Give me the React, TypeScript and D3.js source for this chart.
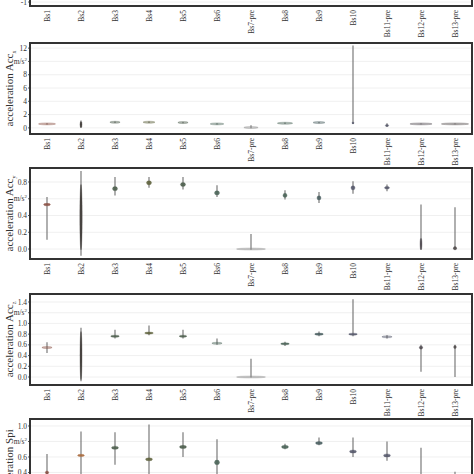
import * as d3 from "d3";

// categories on every panel
const categories = [
  "Bs1", "Bs2", "Bs3", "Bs4", "Bs5", "Bs6", "Bs7-pre",
  "Bs8", "Bs9", "Bs10", "Bs11-pre", "Bs12-pre", "Bs13-pre",
];

// panel 1: acceleration Acc x
const accXMin = [0.5, 0.0, 0.75, 0.75, 0.7, 0.5, -0.05, 0.6, 0.7, 0.6, 0.15, 0.55, 0.55];
const accXMax = [0.7, 1.1, 0.95, 0.95, 0.9, 0.7, 0.4, 0.8, 0.9, 12.4, 0.7, 0.65, 0.65];
const accXMode = [0.6, 0.5, 0.85, 0.85, 0.8, 0.6, 0.05, 0.7, 0.8, 0.75, 0.35, 0.6, 0.6];
const accXWidth = [0.5, 0.06, 0.3, 0.35, 0.3, 0.4, 0.42, 0.45, 0.35, 0.06, 0.1, 0.65, 0.8];
const accXSpread = [0.1, 0.45, 0.1, 0.1, 0.1, 0.1, 0.05, 0.1, 0.1, 0.1, 0.15, 0.1, 0.1];

// panel 2: acceleration Acc y
const accYMin = [0.11, -0.08, 0.64, 0.73, 0.71, 0.62, -0.01, 0.59, 0.55, 0.66, 0.69, -0.01, -0.01];
const accYMax = [0.62, 0.93, 0.86, 0.86, 0.86, 0.76, 0.18, 0.7, 0.68, 0.81, 0.77, 0.53, 0.5];
const accYMode = [0.53, 0.38, 0.72, 0.79, 0.77, 0.67, 0.0, 0.64, 0.61, 0.73, 0.73, 0.06, 0.01];
const accYWidth = [0.2, 0.07, 0.15, 0.15, 0.15, 0.15, 0.85, 0.12, 0.12, 0.12, 0.15, 0.06, 0.1];
const accYSpread = [0.015, 0.39, 0.025, 0.025, 0.025, 0.025, 0.004, 0.025, 0.025, 0.025, 0.015, 0.07, 0.02];

// panel 3: acceleration Acc z
const accZMin = [0.45, -0.08, 0.72, 0.78, 0.72, 0.6, -0.01, 0.58, 0.76, 0.76, 0.72, 0.1, 0.0];
const accZMax = [0.65, 0.92, 0.88, 0.96, 0.88, 0.72, 0.34, 0.66, 0.85, 1.45, 0.78, 0.6, 0.6];
const accZMode = [0.55, 0.4, 0.76, 0.82, 0.76, 0.63, 0.0, 0.62, 0.8, 0.8, 0.75, 0.55, 0.56];
const accZWidth = [0.3, 0.06, 0.25, 0.25, 0.22, 0.3, 0.85, 0.25, 0.25, 0.25, 0.3, 0.1, 0.08];
const accZSpread = [0.01, 0.45, 0.02, 0.02, 0.02, 0.01, 0.005, 0.01, 0.02, 0.01, 0.01, 0.03, 0.03];

// panel 4: acceleration Spi (cut off at the bottom)
const spiMin = [0.2, 0.3, 0.5, 0.1, 0.6, 0.1, 0.0, 0.7, 0.75, 0.6, 0.55, 0.1, 0.0];
const spiMax = [0.64, 0.93, 0.92, 1.02, 0.92, 0.83, 0.05, 0.77, 0.85, 0.85, 0.8, 0.72, 0.41];
const spiMode = [0.4, 0.62, 0.72, 0.57, 0.73, 0.53, 0.02, 0.73, 0.78, 0.67, 0.62, 0.3, 0.2];
const spiWidth = [0.1, 0.2, 0.2, 0.2, 0.2, 0.15, 0.3, 0.2, 0.2, 0.2, 0.2, 0.1, 0.1];
const spiSpread = [0.02, 0.015, 0.02, 0.02, 0.02, 0.03, 0.005, 0.02, 0.02, 0.02, 0.02, 0.02, 0.02];

const bulbColors = [
  "#8a4f42", "#3e3a36", "#4d5e4d", "#5e623c", "#4d5e4d", "#4a6458", "#8a8a8a",
  "#4a6458", "#4a5f60", "#55586a", "#55586a", "#4f4a50", "#4f4a4a",
];
const spiColors = [...bulbColors.slice(0, 1), "#a8683a", ...bulbColors.slice(2)];

const FONT = "'Liberation Serif', 'DejaVu Serif', serif";
const LEFT = 30;
const RIGHT = 472;

interface Panel {
  top: number;
  bottom: number;
  domain: [number, number];
  ticks: number[];
  unitAt: number | null;
  title: string;
  sub: string;
  min: number[];
  max: number[];
  mode: number[];
  width: number[];
  spread: number[];
  colors: string[];
  fmt: (v: number) => string;
}

const f1 = d3.format(".1f");

const panels: Panel[] = [
  {
    top: -85, bottom: 6, domain: [-1.1, 1.2], ticks: [-1], unitAt: null,
    title: "", sub: "", min: [], max: [], mode: [], width: [], spread: [], colors: bulbColors,
    fmt: (v) => String(v),
  },
  {
    top: 43, bottom: 134, domain: [-0.92, 12.77], ticks: [0, 2, 4, 6, 8, 10, 12], unitAt: 10,
    title: "acceleration Acc", sub: "x",
    min: accXMin, max: accXMax, mode: accXMode, width: accXWidth, spread: accXSpread, colors: bulbColors,
    fmt: (v) => String(v),
  },
  {
    top: 168, bottom: 259, domain: [-0.119, 0.967], ticks: [0, 0.2, 0.4, 0.6, 0.8], unitAt: 0.6,
    title: "acceleration Acc", sub: "y",
    min: accYMin, max: accYMax, mode: accYMode, width: accYWidth, spread: accYSpread, colors: bulbColors,
    fmt: f1,
  },
  {
    top: 294, bottom: 385, domain: [-0.149, 1.549], ticks: [0, 0.2, 0.4, 0.6, 0.8, 1.0, 1.2, 1.4], unitAt: 1.2,
    title: "acceleration Acc", sub: "z",
    min: accZMin, max: accZMax, mode: accZMode, width: accZWidth, spread: accZSpread, colors: bulbColors,
    fmt: f1,
  },
  {
    top: 419, bottom: 510, domain: [-0.084, 1.09], ticks: [0, 0.2, 0.4, 0.6, 0.8, 1.0], unitAt: 0.8,
    title: "acceleration Spi", sub: "",
    min: spiMin, max: spiMax, mode: spiMode, width: spiWidth, spread: spiSpread, colors: spiColors,
    fmt: f1,
  },
];

function PanelView({ p }: { p: Panel }) {
  const x = d3.scalePoint<string>().domain(categories).range([LEFT, RIGHT]).padding(0.5);
  const y = d3.scaleLinear().domain(p.domain).range([p.bottom, p.top]);
  const half = x.step() / 2;
  const mid = (p.top + p.bottom) / 2;

  return (
    <g>
      {/* grid */}
      {p.ticks.map((t) => (
        <line key={"g" + t} x1={LEFT} x2={RIGHT} y1={y(t)} y2={y(t)} stroke="#ececec" strokeWidth={0.8} />
      ))}
      {/* violins */}
      {categories.map((c, i) => {
        if (p.min.length === 0) return null;
        const cx = x(c) ?? 0;
        const w = p.width[i] * half;
        const ym = y(p.mode[i]);
        const h = Math.max(1, Math.abs(y(p.mode[i] + p.spread[i]) - ym));
        return (
          <g key={c}>
            <line x1={cx} x2={cx} y1={y(p.min[i])} y2={y(p.max[i])} stroke="#6e6e6e" strokeWidth={1.1} />
            <ellipse cx={cx} cy={ym} rx={w} ry={h} fill={p.colors[i]} fillOpacity={w > 5 ? 0.45 : 0.9} stroke={p.colors[i]} strokeOpacity={0.6} strokeWidth={0.5} />
          </g>
        );
      })}
      {/* frame */}
      <rect x={LEFT} y={p.top} width={RIGHT - LEFT} height={p.bottom - p.top} fill="none" stroke="#333" strokeWidth={2} />
      {/* y ticks */}
      {p.ticks.map((t) => (
        <g key={"t" + t}>
          <line x1={LEFT - 2} x2={LEFT} y1={y(t)} y2={y(t)} stroke="#333" strokeWidth={0.8} />
          <text x={LEFT - 3} y={y(t)} dy="0.35em" textAnchor="end" fontSize={7.5} fill="#333" fontFamily={FONT}>
            {p.unitAt !== null && Math.abs(t - p.unitAt) < 1e-9 ? (
              <>m/s<tspan fontSize={5} dy="-3">2</tspan></>
            ) : p.fmt(t)}
          </text>
        </g>
      ))}
      {/* x labels */}
      {categories.map((c) => (
        <text key={"x" + c} transform={`translate(${x(c)},${p.bottom + 4}) rotate(-90)`} dy="0.35em" textAnchor="end" fontSize={7.5} fill="#333" fontFamily={FONT}>
          {c}
        </text>
      ))}
      {/* y title */}
      {p.title && (
        <text transform={`translate(13,${mid}) rotate(-90)`} textAnchor="middle" fontSize={11} fill="#333" fontFamily={FONT}>
          {p.title}
          {p.sub && <tspan fontSize={6} dy="3">{p.sub}</tspan>}
        </text>
      )}
    </g>
  );
}

export default function App() {
  return (
    <svg width={474} height={474} style={{ position: "absolute", left: 0, top: 0, background: "#fff" }}>
      <rect width={474} height={474} fill="#fff" />
      {panels.map((p, i) => (
        <PanelView key={i} p={p} />
      ))}
    </svg>
  );
}
